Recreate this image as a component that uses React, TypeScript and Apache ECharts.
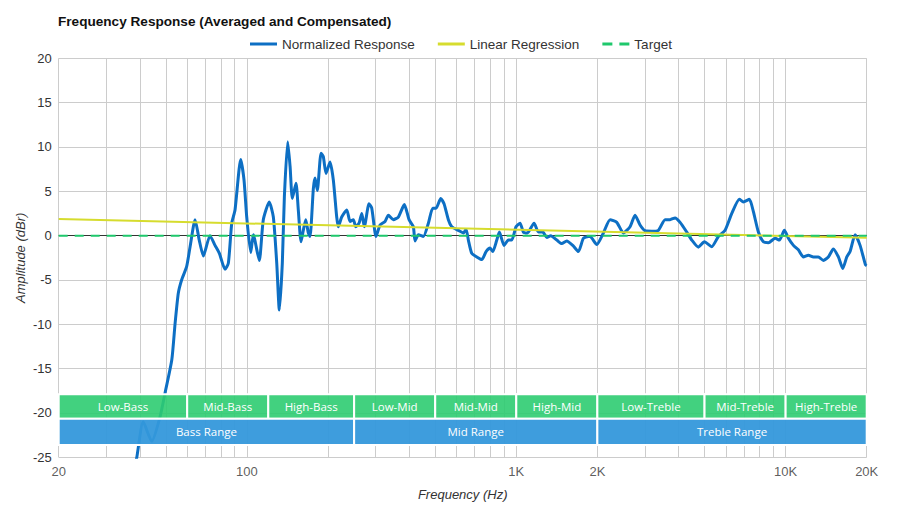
import React, { useEffect, useRef } from "react";
import * as echarts from "echarts";

const freqs = [
  38.4, 39.0, 41.2, 44.3, 47.6, 49.6, 52.6, 54.1, 55.6, 57.2, 59.7, 61.5, 64.2, 66.5, 68.9, 72.9, 76.1, 79.0,
  82.9, 85.3, 87.8, 90.3, 94.8, 97.5, 99.8, 103.3, 105.6, 111.1, 115, 121, 125.3, 129, 131.9, 135.3, 137.7,
  141.7, 144.6, 147.4, 152.1, 155.1, 158.8, 161.9, 165.3, 169, 171.5, 176.4, 179, 182.5, 188.4, 192.1, 196.6,
  203.4, 209.2, 215.4, 218.4, 224.8, 234.8, 241.4, 248.4, 253.5, 260.7, 266.9, 272.8, 284, 290.6, 301.6, 312,
  325.6, 335, 349.6, 364.8, 384, 399.8, 414.8, 420.8, 433, 451.8, 471.6, 489.6, 503.6, 524.2, 539.2, 559.4,
  576, 609.3, 636.1, 651, 663.8, 683.4, 713.3, 744.5, 772.3, 799.3, 817.9, 846.4, 865.4, 901, 934.5, 962,
  998, 1033, 1062, 1099.5, 1164, 1208, 1254, 1298, 1343, 1414, 1475, 1539, 1621, 1700, 1775, 1852, 1879,
  1990, 2106, 2230, 2361, 2498, 2645, 2761, 2881, 3008, 3184, 3370, 3568, 3724, 3886, 4057, 4295, 4483, 4743,
  4993, 5318, 5627, 5960, 6311, 6735, 6969, 7335, 7591, 7923, 8270, 8630, 9140, 9483, 9895, 10240, 10690,
  11150, 11640, 12150, 12680, 13230, 13810, 14410, 15040, 15700, 16300, 16870, 17350, 18110, 18900, 19790, 20000,
];
const response = [
  -26, -25, -21.0, -23.2, -20.4, -17.8, -14.0, -9.9, -6.5, -5.0, -3.5, -1.25, 1.8, -0.5, -2.3, 0.0, -1.1, -2.0,
  -3.8, -3.1, 1.4, 2.9, 8.6, 6.3, 2.1, -1.9, 0.1, -2.8, 1.8, 3.8, 2.1, -3.1, -8.4, -3.1, 4.4,
  10.6, 7.8, 4.2, 5.9, 2.9, -0.7, 0.6, 1.8, 0.3, -0.1, 5.3, 6.5, 5.1, 9.3, 8.9, 7.0,
  8.3, 6.3, 2.1, 1.0, 2.1, 2.9, 1.6, 1.8, 1.0, 1.4, 2.5, 1.0, 3.6, 3.1, -0.1, 1.2,
  1.6, 2.3, 1.8, 2.1, 3.5, 1.8, 1.0, -0.6, 0.1, -0.1, 1.4, 3.1, 3.1, 4.2, 3.6, 1.8,
  1.0, 0.6, 0.3, 0.7, -0.5, -2.0, -2.4, -2.7, -1.8, -1.4, -1.8, -0.5, 0.4, -1.1, -0.5, -0.5,
  1.0, 1.4, 0.4, 0.3, 1.4, 0.4, 0.4, -0.2, 0, -0.5, -0.9, -0.6, -1.1, -1.8, -0.3, -0.1, -0.1,
  -1.0, 0.3, 1.8, 1.5, 0.3, 1.0, 2.3, 1.2, 0.55, 0.5, 0.6, 1.8, 1.8, 2.0, 1.5, 0.4, -0.5, -1.3,
  -0.7, -1.25, -0.1, 0.6, 2.5, 4.1, 3.8, 4.1, 2.7, 0.4, -0.7, -0.8, -0.3, -0.5, 0.6, -0.3, -1.1,
  -1.6, -2.4, -2.2, -2.4, -2.4, -2.8, -2.4, -1.5, -2.4, -3.7, -2.4, -1.8, 0.1, -1.1, -3.3, -3.4,
];
const regressionFreqs = [20, 20000];
const regressionValues = [1.87, -0.25];
const targetFreqs = [20, 20000];
const targetValues = [0, 0];

const gridFreqs = [
  20, 30, 40, 50, 60, 70, 80, 90, 100, 200, 300, 400, 500, 600, 700, 800, 900, 1000, 2000, 3000, 4000, 5000,
  6000, 7000, 8000, 9000, 10000, 20000,
];
const tickFreqs = [20, 100, 1000, 2000, 10000, 20000];
const tickLabels = ["20", "100", "1K", "2K", "10K", "20K"];

const bandNames = ["Low-Bass", "Mid-Bass", "High-Bass", "Low-Mid", "Mid-Mid", "High-Mid", "Low-Treble", "Mid-Treble", "High-Treble"];
const bandEdges = [20, 60, 120, 250, 500, 1000, 2000, 5000, 10000, 20000];
const rangeNames = ["Bass Range", "Mid Range", "Treble Range"];
const rangeEdges = [20, 250, 2000, 20000];

const FONT = "'Liberation Sans', Arial, sans-serif";
const SOLID_ICON = "path://M0 0H27V3H0Z";
const DASH_ICON = "path://M0 0H10V3H0Z M17 0H27V3H17Z";

export default function App() {
  const ref = useRef<HTMLDivElement>(null);
  useEffect(() => {
    document.body.style.margin = "0";
    const chart = echarts.init(ref.current!, null, { renderer: "svg" });
    const bandAreas = bandNames.map((n, i) => [
      { name: n, coord: [bandEdges[i], -17.9] },
      { coord: [bandEdges[i + 1], -20.65] },
    ]);
    const rangeAreas = rangeNames.map((n, i) => [
      { name: n, coord: [rangeEdges[i], -20.65] },
      { coord: [rangeEdges[i + 1], -23.6] },
    ]);
    const option: any = {
      animation: false,
      backgroundColor: "#fff",
      title: {
        text: "Frequency Response (Averaged and Compensated)",
        left: 58,
        top: 14,
        padding: 0,
        textStyle: { fontFamily: FONT, fontSize: 13.6, fontWeight: "bold", color: "#111" },
      },
      legend: {
        left: 250,
        top: 37,
        padding: 0,
        itemWidth: 27,
        itemHeight: 14,
        itemGap: 23,
        textStyle: { fontFamily: FONT, fontSize: 13.5, color: "#333" },
        data: [
          { name: "Normalized Response", icon: SOLID_ICON },
          { name: "Linear Regression", icon: SOLID_ICON },
          { name: "Target", icon: DASH_ICON },
        ],
      },
      grid: { left: 58.7, right: 33.3, top: 58.3, bottom: 62.7 },
      xAxis: {
        type: "log",
        logBase: 10,
        min: 20,
        max: 20000,
        name: "Frequency (Hz)",
        nameLocation: "middle",
        nameGap: 31,
        nameMoveOverlap: false,
        nameTextStyle: { fontFamily: FONT, fontSize: 13, fontStyle: "italic", color: "#333" },
        axisLine: { show: false },
        axisTick: { show: false },
        axisLabel: { show: false },
        splitLine: { show: false },
        minorSplitLine: { show: false },
      },
      yAxis: {
        type: "value",
        min: -25,
        max: 20,
        interval: 5,
        name: "Amplitude (dBr)",
        nameLocation: "middle",
        nameGap: 32,
        nameMoveOverlap: false,
        nameTextStyle: { fontFamily: FONT, fontSize: 13, fontStyle: "italic", color: "#333" },
        axisLine: { show: false },
        axisTick: { show: false },
        axisLabel: { fontFamily: FONT, fontSize: 13, color: "#333", margin: 7 },
        splitLine: { show: true, lineStyle: { color: "#cccccc", width: 1 } },
      },
      series: [
        {
          name: "grid",
          type: "line",
          data: [[20, 0]],
          showSymbol: false,
          symbol: "none",
          lineStyle: { opacity: 0 },
          silent: true,
          z: 1,
          markLine: {
            silent: true,
            symbol: "none",
            z: 1,
            label: { show: false },
            lineStyle: { color: "#cccccc", width: 1, type: "solid" },
            data: [
              ...gridFreqs.map((f) => ({ xAxis: f })),
              { yAxis: 0, lineStyle: { color: "#333", width: 1, type: "solid" } },
            ],
          },
        },
        {
          name: "Normalized Response",
          type: "line",
          data: freqs.map((f, i) => [f, response[i]]),
          showSymbol: false,
          symbol: "none",
          smooth: 0.2,
          clip: true,
          color: "#0d6fc4",
          lineStyle: { color: "#0d6fc4", width: 3 },
          z: 3,
        },
        {
          name: "Linear Regression",
          type: "line",
          data: regressionFreqs.map((f, i) => [f, regressionValues[i]]),
          showSymbol: false,
          symbol: "none",
          color: "#d6dc2e",
          lineStyle: { color: "#d6dc2e", width: 2 },
          z: 4,
        },
        {
          name: "Target",
          type: "line",
          data: targetFreqs.map((f, i) => [f, targetValues[i]]),
          showSymbol: false,
          symbol: "none",
          color: "#1fc86c",
          lineStyle: { color: "#1fc86c", width: 2, type: [9, 7] },
          z: 5,
        },
        {
          name: "bands",
          type: "line",
          data: [[20, 0]],
          showSymbol: false,
          symbol: "none",
          lineStyle: { opacity: 0 },
          silent: true,
          z: 10,
          markArea: {
            silent: true,
            z: 10,
            label: {
              show: true,
              position: "inside",
              color: "#fff",
              fontFamily: "'Open Sans', sans-serif",
              fontSize: 11.5,
            },
            data: [
              ...bandAreas.map((a) => [
                { ...a[0], itemStyle: { color: "rgba(46,204,113,0.9)", borderColor: "#fff", borderWidth: 2 } },
                a[1],
              ]),
              ...rangeAreas.map((a) => [
                { ...a[0], itemStyle: { color: "rgba(52,152,219,0.95)", borderColor: "#fff", borderWidth: 2 } },
                a[1],
              ]),
            ],
          },
        },
        {
          name: "ticks",
          type: "scatter",
          data: tickFreqs.map((f) => [f, -25]),
          symbolSize: 0,
          clip: false,
          silent: true,
          z: 10,
          label: {
            show: true,
            position: "bottom",
            distance: 8,
            fontFamily: FONT,
            fontSize: 13,
            color: "#333",
            formatter: (p: any) => tickLabels[p.dataIndex],
          },
        },
      ],
    };
    chart.setOption(option);
    return () => chart.dispose();
  }, []);
  return <div ref={ref} style={{ position: "fixed", left: 0, top: 0, width: 900, height: 520 }} />;
}
